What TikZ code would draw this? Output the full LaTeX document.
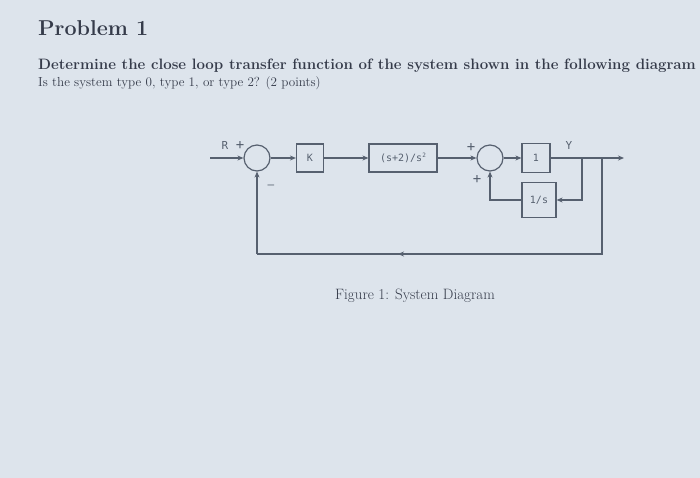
\documentclass[tikz,border=0pt]{standalone}
\usepackage{fontspec}
\newfontfamily\dgfont{DejaVu Sans Mono}
\usetikzlibrary{arrows.meta,calc}
\definecolor{bgc}{HTML}{DDE4EC}
\definecolor{txt}{HTML}{353B4A}
\definecolor{ln}{HTML}{56606F}
\begin{document}
\begin{tikzpicture}[x=1pt,y=-1pt,
  blk/.style={draw=ln,line width=1.2pt,minimum height=28pt,inner sep=0pt,font=\dgfont\fontsize{10}{10}\selectfont,text=ln},
  sumc/.style={draw=ln,line width=1.2pt,circle,minimum size=26pt,inner sep=0pt},
  wire/.style={draw=ln,line width=1.2pt},
  arr/.style={wire,-{Stealth[length=6pt,width=5pt]}},
  sgn/.style={font=\dgfont\fontsize{11}{11}\selectfont,text=ln,inner sep=0pt}]
\fill[bgc] (0,0) rectangle (700,478);
\useasboundingbox (0,0) rectangle (700,478);
% texts
\node[anchor=base west,inner sep=0pt,text=txt,font=\fontsize{21.5}{24}\selectfont\bfseries] (title) at (38,36) {Problem 1};
\node[anchor=base west,inner sep=0pt,text=txt,font=\fontsize{15.05}{16}\selectfont\bfseries] (l1) at (38,70) {Determine the close loop transfer function of the system shown in the following diagram};
\node[anchor=base west,inner sep=0pt,text=txt,font=\fontsize{13.1}{14}\selectfont] (l2) at (38,87) {Is the system type 0, type 1, or type 2? (2 points)};
\node[anchor=base,inner sep=0pt,text=txt,font=\fontsize{15}{16}\selectfont] (cap) at (415,299) {Figure 1: System Diagram};
% diagram
\coordinate (in) at (210,158);
\node[sumc] (s1) at (257,158) {};
\node[blk,minimum width=27pt] (K) at (310,158) {K};
\node[blk,minimum width=68pt] (G) at (403,158) {(s+2)/s\raisebox{0.45em}{\fontsize{6}{6}\selectfont 2}};
\node[sumc] (s2) at (490,158) {};
\node[blk,minimum width=28pt,minimum height=29pt] (one) at (536,158) {1};
\node[blk,minimum width=34pt,minimum height=35pt] (int) at (539,200) {1/s};
\coordinate (b1) at (582,158);
\coordinate (b2) at (602,158);
\coordinate (out) at (624,158);
\coordinate (b1d) at (582,200);
\coordinate (b2d) at (602,254);
\coordinate (s1d) at (257,254);
\coordinate (s2d) at (490,200);
\coordinate (marr) at (398,254);
\draw[arr] (in) -- (s1);
\draw[arr] (s1) -- (K);
\draw[arr] (K) -- (G);
\draw[arr] (G) -- (s2);
\draw[arr] (s2) -- (one);
\draw[arr] (one) -- (out);
\draw[arr] (b1) -- (b1d) -- (int);
\draw[arr] (int) -- (s2d) -- (s2);
\draw[wire] (b2) -- (b2d) -- (s1d);
\draw[arr] (b2d) -- (marr);
\draw[arr] (s1d) -- (s1);
% labels
\node[sgn] (R) at (225,145) {R};
\node[sgn,font=\dgfont\fontsize{14}{14}\selectfont] (p1) at (240,145) {+};
\node[sgn] (m1) at (271,187) {\textendash};
\node[sgn,font=\dgfont\fontsize{14}{14}\selectfont] (p2) at (471,147) {+};
\node[sgn,font=\dgfont\fontsize{14}{14}\selectfont] (p3) at (477,179) {+};
\node[sgn] (Y) at (569,145) {Y};
\end{tikzpicture}
\end{document}
